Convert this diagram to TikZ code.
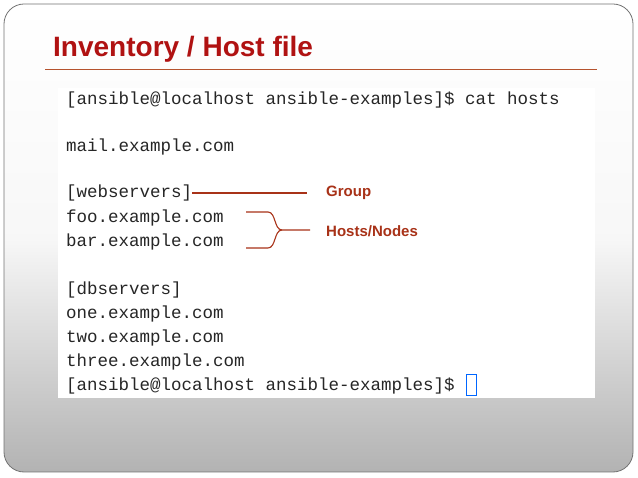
\documentclass[tikz,border=0pt]{standalone}
\usepackage{fontspec}
\setmainfont{Liberation Sans}
\setmonofont{Liberation Mono}
\definecolor{ttl}{HTML}{B01212}
\definecolor{ann}{HTML}{A83218}
\definecolor{rule}{HTML}{B5532E}
\begin{document}
\begin{tikzpicture}[x=1pt,y=-1pt,
  term/.style={anchor=west,inner sep=0pt,font=\ttfamily\fontsize{17.5}{18}\selectfont,text=black!85},
  lab/.style={anchor=west,inner sep=0pt,font=\bfseries\fontsize{15}{17}\selectfont,text=ann},
  conn/.style={ann,line width=1.1pt}]
\useasboundingbox (0,0) rectangle (638,478);
\shade[top color=white,bottom color=black!30,middle color=black!3,rounded corners=20,draw=black!55,line width=0.8pt] (4,4) rectangle (633,472);
\node[anchor=west,inner sep=0pt,font=\bfseries\fontsize{28}{30}\selectfont,text=ttl] (title) at (53,49) {Inventory / Host file};
\draw[rule,line width=1pt] (45,70) -- (597,70);
\fill[white] (58,88) rectangle (595,398);
\node[term] (l1) at (66,100) {[ansible@localhost ansible-examples]\$ cat hosts};
\node[term] (l2) at (66,147) {mail.example.com};
\node[term] (l3) at (66,193) {[webservers]};
\node[term] (l4) at (66,218) {foo.example.com};
\node[term] (l5) at (66,242) {bar.example.com};
\node[term] (l6) at (66,290) {[dbservers]};
\node[term] (l7) at (66,314) {one.example.com};
\node[term] (l8) at (66,338) {two.example.com};
\node[term] (l9) at (66,362) {three.example.com};
\node[term] (l10) at (66,386) {[ansible@localhost ansible-examples]\$};
\draw[blue!60!cyan,line width=1pt] (466,375) rectangle (476,396);
\node[lab] (grp) at (326,193) {Group};
\node[lab] (hn) at (326,231) {Hosts/Nodes};
\draw[conn] (l3.east) -- (307,193);
\coordinate (tip) at (310,230);
\draw[conn] (246,212) -- (268,212) .. controls (276,212) and (274,230) .. (282,230) -- (tip);
\draw[conn] (246,248) -- (268,248) .. controls (276,248) and (274,230) .. (282,230);
\end{tikzpicture}
\end{document}
